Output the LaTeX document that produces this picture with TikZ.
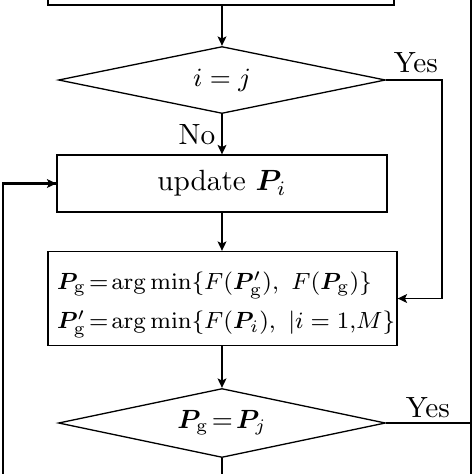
\RequirePackage{fix-cm}
\documentclass[tikz,border=0pt]{standalone}
\usepackage{amsmath}
\usepackage{bm}
\usetikzlibrary{shapes.geometric,arrows.meta}
\begin{document}
\begin{tikzpicture}[x=0.3418pt,y=-0.3418pt,
  box/.style={draw,line width=0.45pt,rectangle,inner sep=0pt},
  dia/.style={draw,line width=0.45pt,diamond,inner sep=0pt,shape aspect=5},
  conn/.style={line width=0.6pt},
  arr/.style={line width=0.6pt,-{Stealth[length=3.2pt,width=3pt,inset=0.7pt]}},
  outer/.style={line width=0.9pt},
  lbl/.style={inner sep=0pt}]
\useasboundingbox (0,0) rectangle (474,474);
\clip (0,0) rectangle (474,474);
% nodes
\node[box,minimum width={346*0.3418pt},minimum height={60*0.3418pt}] (top) at (221,-25) {};
\node[dia,minimum width={327*0.3418pt},minimum height={67*0.3418pt},font=\small] (d1) at (222,80) {$i=j$};
\node[box,minimum width={330*0.3418pt},minimum height={57*0.3418pt}] (b2) at (222,183.5) {update $\bm{P}_{i}$};
\node[box,minimum width={349*0.3418pt},minimum height={94*0.3418pt}] (b3) at (222.5,298.5) {};
\node[lbl,align=left,font={\fontsize{8}{10}\selectfont}] (b3t) at (226,305)
  {$\bm{P}_{\mathrm{g}}\!=\!\arg\min\{F(\bm{P}_{\mathrm{g}}^{\prime}),\ F(\bm{P}_{\mathrm{g}})\}$\\[3.3pt]
   $\bm{P}_{\mathrm{g}}^{\prime}\!=\!\arg\min\{F(\bm{P}_{i}),\ |i=1{,}M\}$};
\node[dia,minimum width={327*0.3418pt},minimum height={69*0.3418pt},font=\small] (d2) at (222,423) {$\bm{P}_{\mathrm{g}}\!=\!\bm{P}_{j}$};
% free ends
\coordinate (rt) at (471,-10);
\coordinate (rb) at (471,490);
\coordinate (lb) at (3,490);
\coordinate (bot) at (222,490);
% connectors
\draw[arr] (top.south -| d1.north) -- (d1.north);
\draw[arr] (d1.south) -- node[lbl,left=2pt,pos=0.5] {No} (b2.north);
\draw[arr] (d1.east) -- ++(56,0) |- (b3.east);
\draw[arr] (b2.south) -- (b3.north -| b2.south);
\draw[arr] (b3.south -| d2.north) -- (d2.north);
\draw[conn] (d2.south) -- (bot);
\draw[outer] (rt) -- (rb);
\draw[conn] (d2.east) -- (d2.east -| rt);
\draw[outer] (lb) |- (b2.west);
\draw[arr] (b2.west) ++(-10,0) -- (b2.west);
% labels
\node[lbl] (y1) at (416,63) {Yes};
\node[lbl] (y2) at (428,408) {Yes};
\end{tikzpicture}
\end{document}
